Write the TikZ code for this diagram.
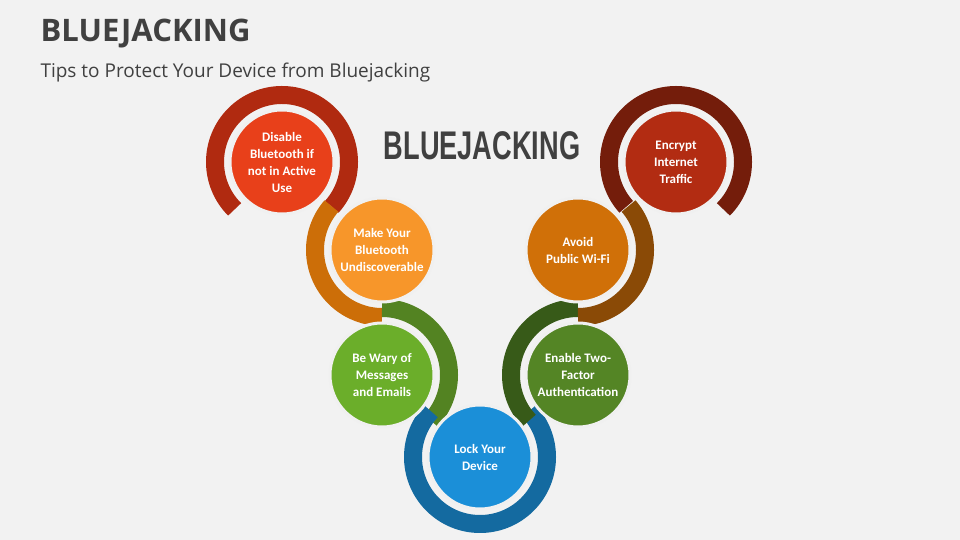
\documentclass[tikz,border=0pt]{standalone}
\usepackage{fontspec}
\setmainfont{Carlito}
\newfontfamily\titlefont{Open Sans}
\newfontfamily\headfont{Liberation Sans}
\definecolor{bg}{HTML}{F2F2F2}
\definecolor{tgray}{HTML}{404040}
\definecolor{cA}{HTML}{E8401A}\definecolor{rA}{HTML}{B02A10}
\definecolor{cB}{HTML}{F7962A}\definecolor{rB}{HTML}{CC6E08}
\definecolor{cC}{HTML}{6BAE2A}\definecolor{rC}{HTML}{538322}
\definecolor{cD}{HTML}{1B8FD8}\definecolor{rD}{HTML}{146AA0}
\definecolor{cE}{HTML}{548525}\definecolor{rE}{HTML}{375A18}
\definecolor{cF}{HTML}{D07008}\definecolor{rF}{HTML}{8A4A06}
\definecolor{cG}{HTML}{B22C12}\definecolor{rG}{HTML}{741D0B}
\tikzset{
  tip/.style={circle, minimum size=104pt, inner sep=0pt, draw=white!88!gray, line width=3pt,
    text=white, align=center, font=\fontsize{13}{17}\selectfont\bfseries},
  ring/.style={line width=18pt}
}
\begin{document}
\begin{tikzpicture}[x=1pt,y=1pt]
\fill[bg] (0,0) rectangle (960,540);
\useasboundingbox (0,0) rectangle (960,540);
\node[anchor=west, text=tgray, font=\titlefont\fontsize{31}{34}\selectfont\bfseries] (title) at (37,506) {BLUEJACKING};
\node[anchor=west, text=tgray, font=\titlefont\fontsize{19}{22}\selectfont] (sub) at (37,467) {Tips to Protect Your Device from Bluejacking};
\node[text=tgray, font=\headfont\fontsize{40}{40}\selectfont\bfseries, xscale=0.68] (head) at (482,394) {BLUEJACKING};
\coordinate (p1) at (282,378);
\coordinate (p2) at (382,290);
\coordinate (p3) at (382,165);
\coordinate (p4) at (480,83);
\coordinate (p5) at (578,165);
\coordinate (p6) at (578,290);
\coordinate (p7) at (676,378);
\draw[ring, rA] ([shift={(-42:67pt)}]p1) arc[start angle=-42, end angle=225, radius=67pt];
\draw[ring, rB] ([shift={(139:67pt)}]p2) arc[start angle=139, end angle=270, radius=67pt];
\draw[ring, rC] ([shift={(90:67pt)}]p3) arc[start angle=90, end angle=-43, radius=67pt];
\draw[ring, rD] ([shift={(137:67pt)}]p4) arc[start angle=137, end angle=403, radius=67pt];
\draw[ring, rE] ([shift={(90:67pt)}]p5) arc[start angle=90, end angle=223, radius=67pt];
\draw[ring, rF] ([shift={(-90:67pt)}]p6) arc[start angle=-90, end angle=41, radius=67pt];
\draw[ring, rG] ([shift={(-45:67pt)}]p7) arc[start angle=-45, end angle=222, radius=67pt];
\node[tip, fill=cA] (n1) at (p1) {Disable\\Bluetooth if\\not in Active\\Use};
\node[tip, fill=cB] (n2) at (p2) {Make Your\\Bluetooth\\Undiscoverable};
\node[tip, fill=cC] (n3) at (p3) {Be Wary of\\Messages\\and Emails};
\node[tip, fill=cD] (n4) at (p4) {Lock Your\\Device};
\node[tip, fill=cE] (n5) at (p5) {Enable Two-\\Factor\\Authentication};
\node[tip, fill=cF] (n6) at (p6) {Avoid\\Public Wi-Fi};
\node[tip, fill=cG] (n7) at (p7) {Encrypt\\Internet\\Traffic};
\end{tikzpicture}
\end{document}
